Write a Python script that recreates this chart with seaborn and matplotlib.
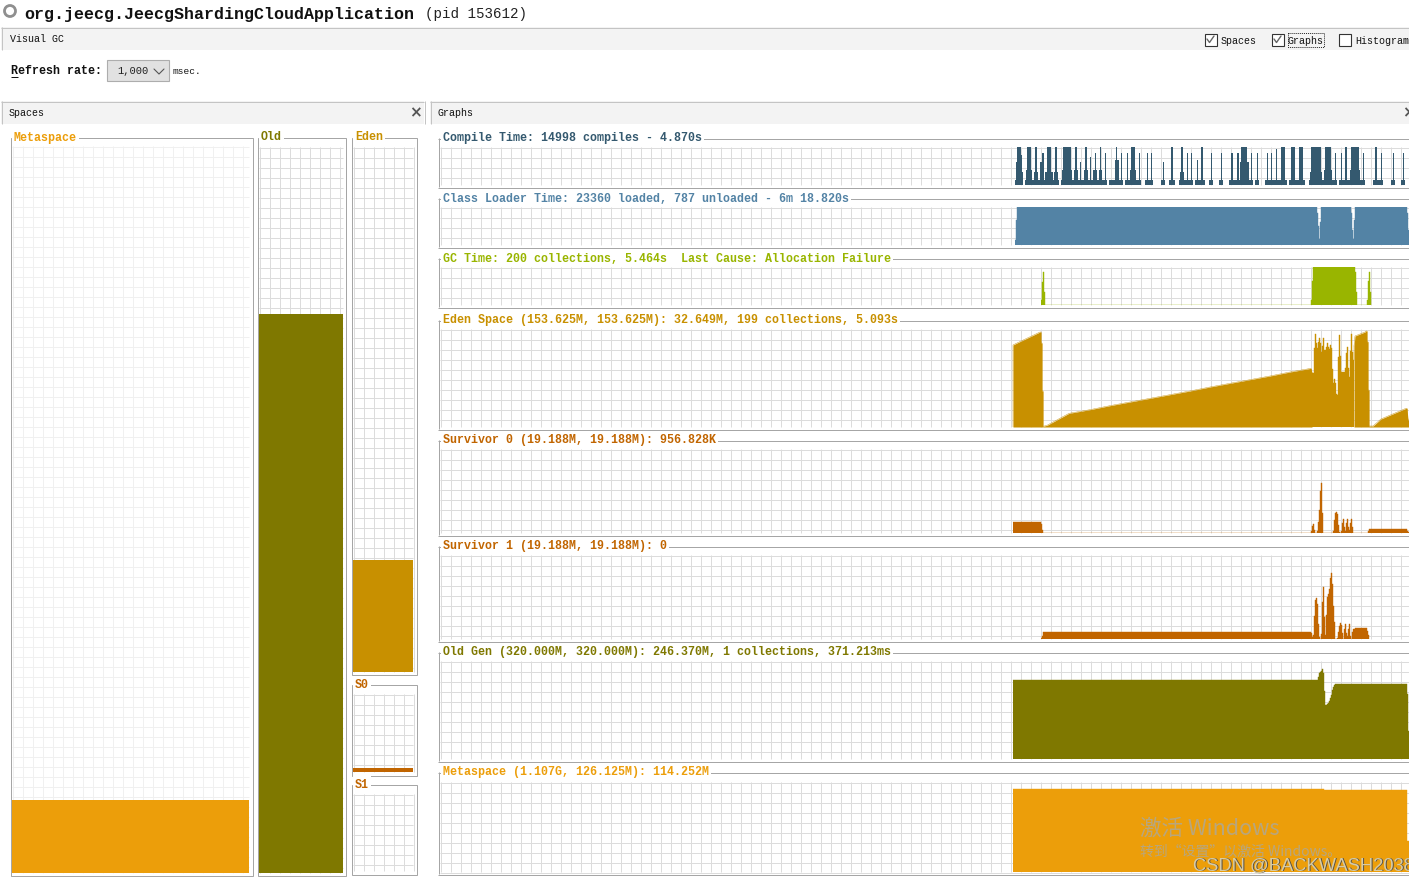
import numpy as np
import pandas as pd
import matplotlib
matplotlib.use("Agg")
import matplotlib.pyplot as plt
from matplotlib.patches import Rectangle, Circle
from matplotlib.collections import LineCollection
import seaborn as sns

W, H = 1409, 883
sns.set_theme(style="white")
plt.rcParams["font.family"] = ["Liberation Mono", "DejaVu Sans"]

# ---------- Spaces panel (capacity and used, MB) ----------
space_names = ["Metaspace", "Old", "Eden", "S0", "S1"]
space_capacity = [1133.6, 320.0, 153.625, 19.188, 19.188]
space_used = [114.252, 246.37, 32.649, 0.934, 0.0]

# ---------- Graph titles ----------
graph_titles = [
    "Compile Time: 14998 compiles - 4.870s",
    "Class Loader Time: 23360 loaded, 787 unloaded - 6m 18.820s",
    "GC Time: 200 collections, 5.464s  Last Cause: Allocation Failure",
    "Eden Space (153.625M, 153.625M): 32.649M, 199 collections, 5.093s",
    "Survivor 0 (19.188M, 19.188M): 956.828K",
    "Survivor 1 (19.188M, 19.188M): 0",
    "Old Gen (320.000M, 320.000M): 246.370M, 1 collections, 371.213ms",
    "Metaspace (1.107G, 126.125M): 114.252M",
]

# ---------- Series: time in samples ----------
compile_start = [45,48,51,63,66,75,78,81,102,105,120,126,135,141,162,165,183,186,189,222,225,240,252,255,270,279,285,297,300,315,327,345,348,363,375,381,390,393,417,435,441,453,483,489,507,513,537,540,543,561,573,585,591,603,627,633,657,663,687,693,711,720,723,753,765,771,795,801,813,828,843,867,873,897,927,930,933,972,975,1005,1017,1023,1035,1050,1053,1089,1119,1125,1143,1173,1179,1203,1209]
compile_end = [69,66,63,66,69,177,96,93,114,111,132,132,159,153,174,171,321,216,213,234,231,243,264,261,273,291,288,306,303,318,369,357,351,366,423,384,408,405,420,459,444,456,495,492,525,519,579,552,549,564,576,615,594,609,639,636,669,666,759,699,717,747,741,756,777,774,861,804,816,831,855,915,885,909,1011,966,963,996,993,1008,1095,1026,1041,1080,1077,1092,1149,1131,1146,1185,1182,1215,1212]
compile_height = [.13,.6,1,.8,.35,.13,.4,1,.35,1,.6,.85,.35,1,.35,1,.13,.4,1,.4,1,.6,.4,1,.75,.4,.85,.4,1,.85,.13,.65,1,.85,.13,.85,.4,1,.85,.13,.85,.85,.13,.6,.13,1,.13,.35,1,.85,.85,.13,.65,1,.13,.85,.13,.85,.13,.85,.85,.6,1,.85,.13,.85,.13,.85,.85,.95,1,.13,1,1,.13,.35,1,.4,1,.85,.13,.85,1,.4,1,.85,.13,1,.85,.13,.85,.13,.85]

class_t = [45,48,51,951,954,957,960,963,1053,1056,1059,1062,1065,1221,1224,1227]
class_h = [.13,.65,1,.85,.5,.15,.6,1,.85,.4,.15,.65,1,.85,.4,.4]

gc_t = [123,126,129,132,135,933,936,939,1065,1068,1071,1101,1104,1107,1110,1113]
gc_h = [.13,.6,.87,.35,0,.13,.62,1,.87,.35,0,.13,.62,.87,.35,0]

eden_first_t = [39,39,51,120,123,123,126,126,129,129]
eden_first_h = [0,246,252,285,285,252,252,108,108,2]
eden_ramp_t = [129,141,207,270,330,390,450,510,570,630,690,750,810,870,933,936]
eden_ramp_h = [2,5,41,52,64,75,86,97,108,120,131,142,153,165,176,163]
eden_burst_t = [936,942,945,948,951,954,957,960,963,966,969,972,978,981,984,987,990,993,996,999,1002,1005,1008,1011,1014,1017,1020,1023,1032,1035,1038,1041,1044,1047,1050,1053,1056,1059,1062]
eden_burst_h = [163,236,279,251,236,256,266,251,226,244,266,231,241,253,239,233,246,236,173,131,143,131,99,96,211,276,213,166,166,176,221,239,176,151,229,279,226,201,243]
eden_last_t = [1062,1065,1095,1098,1101,1101,1104,1104,1107,1107,1119,1143,1218,1221,1224,1227]
eden_last_h = [243,273,285,288,288,256,256,111,111,3,3,24,56,56,21,21]

s0_t = [39,123,126,129,933,936,939,942,945,951,954,957,960,963,966,969,999,1002,1005,1008,1011,1014,1017,1020,1023,1026,1029,1032,1035,1038,1041,1044,1047,1050,1053,1056,1059,1104,1107,1221,1224,1227]
s0_h = [32,26,10,0,5,20,28,10,0,5,32,68,125,150,60,0,5,38,60,64,58,25,4,0,6,30,42,18,5,30,42,18,8,30,42,18,0,5,11,7,3,3]

s1_t = [123,126,129,933,936,939,942,945,948,951,954,957,960,963,966,969,972,975,978,981,984,987,990,993,996,999,1002,1005,1011,1014,1017,1020,1023,1026,1029,1032,1035,1038,1041,1044,1047,1050,1053,1056,1059,1065,1101,1104,1107]
s1_h = [3,9,21,18,5,13,70,117,122,106,44,5,0,14,110,155,65,12,72,125,135,150,182,198,165,100,50,0,3,22,40,47,43,18,0,30,45,18,8,30,45,8,0,20,30,33,25,12,0]

old_t = [39,954,957,960,963,966,969,972,975,981,984,987,990,993,996,999,1002,1005,1017,1221,1224,1227]
old_h = [237,247,257,262,264,270,259,205,162,165,169,174,182,192,207,217,221,224,226,195,84,84]

meta_t = [39,972,1221,1227]
meta_h = [249,246,94,94]

# ---------- Colours ----------
C_COMPILE, C_CLASS, C_GC = "#34596f", "#5383a5", "#99b500"
C_EDEN, C_SURV, C_OLD, C_META = "#c89000", "#c16500", "#7f7800", "#ec9e0a"
GRID, BORDER, STRIP = "#dcdcdc", "#a6a6a6", "#f3f3f3"

fig = plt.figure(figsize=(W / 100, H / 100), dpi=100, facecolor="white")
bg = fig.add_axes([0, 0, 1, 1], zorder=0)
bg.set_xlim(0, W); bg.set_ylim(H, 0); bg.axis("off")
top = fig.add_axes([0, 0, 1, 1], zorder=10)
top.set_xlim(0, W); top.set_ylim(H, 0); top.axis("off"); top.patch.set_alpha(0)


def px_axes(x0, y0, x1, y1):
    ax = fig.add_axes([x0 / W, 1 - y1 / H, (x1 - x0) / W, (y1 - y0) / H], zorder=5)
    ax.patch.set_alpha(0)
    ax.axis("off")
    return ax


def hline(a, x0, x1, y, c=BORDER, lw=1.0):
    a.plot([x0, x1], [y + .5, y + .5], color=c, lw=lw * .72, solid_capstyle="butt", snap=True)


def vline(a, x, y0, y1, c=BORDER, lw=1.0):
    a.plot([x + .5, x + .5], [y0, y1], color=c, lw=lw * .72, solid_capstyle="butt", snap=True)


def grid(x0, y0, x1, y1, c=GRID):
    segs = [[(x + .5, y0), (x + .5, y1)] for x in range(x0, x1 + 1, 10)]
    segs += [[(x0, y + .5), (x1, y + .5)] for y in range(y0, y1 + 1, 10)]
    bg.add_collection(LineCollection(segs, colors=c, linewidths=.72))


def ui(x, y, s, size=7.2, weight="normal", color="#111111", **kw):
    return top.text(x, y, s, fontsize=size, fontweight=weight, color=color, va="center", ha="left", **kw)


# ---------- Window chrome ----------
top.add_patch(Circle((10, 11), 5.5, fill=False, ec="#8f8f8f", lw=2))
top.text(24, 14, "org.jeecg.JeecgShardingCloudApplication", fontsize=12, fontweight="bold",
         color="#111111", va="center")
top.text(425, 14, "(pid 153612)", fontsize=10.2, color="#222222", va="center")

for (x0, x1, y0, y1) in [(1, W, 27, 50), (1, 424, 101, 124), (430, W, 101, 124)]:
    bg.add_patch(Rectangle((x0, y0), x1 - x0, y1 - y0, fc=STRIP, ec="none"))
    hline(bg, x0, x1, y0, c="#c4c4c4")
    vline(bg, x0, y0, y1, c="#c4c4c4")
vline(bg, 424, 101, 124, c="#c4c4c4")
ui(10, 39, "Visual GC")
ui(9, 113.5, "Spaces")
ui(438, 113.5, "Graphs")
for x in (415,):
    top.text(x, 113, "\u00d7", fontsize=11, fontweight="bold", color="#555555", ha="center", va="center",
             family="DejaVu Sans")
top.text(1408, 113, "\u00d7", fontsize=11, fontweight="bold", color="#555555", ha="center", va="center",
         family="DejaVu Sans")

ui(11, 71, "Refresh rate:", size=8.4, weight="bold")
hline(top, 11, 18, 76, c="#111111")
bg.add_patch(Rectangle((107, 60), 62, 21, fc="#e1e1e1", ec="#adadad", lw=.8))
ui(117, 71, "1,000", size=7.6, color="#222222")
top.plot([154, 159, 164], [69, 74, 69], color="#555555", lw=.8)
ui(173, 71.5, "msec.", size=6.8)

for x, label, checked in [(1204, "Spaces", True), (1271, "Graphs", True), (1338, "Histogram", False)]:
    bg.add_patch(Rectangle((x + .5, 33.5), 12, 12, fc="white", ec="#333333", lw=.8))
    if checked:
        top.plot([x + 3, x + 5.5, x + 10], [39, 42.5, 36], color="#666666", lw=1)
    ui(x + 17, 40.5, label, size=7.2)
top.add_patch(Rectangle((1288, 32.5), 36, 14, fill=False, ec="#222222", lw=.7, ls=(0, (1, 1))))

# ---------- Spaces panel ----------
space_boxes = [  # border x0, y0, x1, y1, grid x0, y0, x1, y1, colour, title x
    (10, 137, 252, 875, 12, 146, 249, 873, C_META, 14),
    (257, 137, 345, 875, 259, 147, 343, 873, C_OLD, 261),
    (351, 137, 416, 674, 353, 147, 413, 672, C_EDEN, 355),
    (351, 684, 416, 775, 353, 694, 413, 772, C_SURV, 355),
    (351, 784, 416, 874, 353, 794, 413, 871, C_SURV, 355),
]
for name, cap, used, box in zip(space_names, space_capacity, space_used, space_boxes):
    bx0, by0, bx1, by1, gx0, gy0, gx1, gy1, col, tx = box
    bg.add_patch(Rectangle((bx0 + .5, by0 + .5), bx1 - bx0, by1 - by0, fill=False, ec=BORDER, lw=.72))
    grid(gx0, gy0, gx1, gy1, c="#f0f0f0" if name == "Metaspace" else GRID)
    bg.text(tx, by0 + .5, name, fontsize=8.4, fontweight="bold", color=col, va="center", ha="left",
            bbox=dict(fc="white", ec="none", pad=1.5), zorder=5)
    ax = px_axes(gx0, gy0, gx1, gy1)
    sns.barplot(x=[name], y=[used], width=1, color=col, saturation=1, ax=ax, linewidth=0)
    ax.set_xlim(-.5, .5)
    ax.set_ylim(0, cap)
    ax.axis("off")

# ---------- Graphs panel ----------
graph_boxes = [  # title line y, grid top, data bottom, border bottom, colour
    (138, 147, 185, 187, C_COMPILE),
    (198, 207, 245, 247, C_CLASS),
    (258, 267, 305, 307, C_GC),
    (320, 329, 427, 429, C_EDEN),
    (440, 449, 533, 535, C_SURV),
    (546, 555, 639, 641, C_SURV),
    (652, 661, 759, 761, C_OLD),
    (772, 782, 872, 874, C_META),
]
XL = (-1683, 1227)
graph_axes = []
for title, (ty, gt, db, bb, col) in zip(graph_titles, graph_boxes):
    hline(bg, 438, W, ty)
    vline(bg, 438, ty, bb)
    hline(bg, 438, W, bb)
    grid(440, gt, W, db)
    bg.text(443, ty + .5, title, fontsize=8.4, fontweight="bold", color=col, va="center", ha="left",
            bbox=dict(fc="white", ec="none", pad=1.5), zorder=5)
    ax = px_axes(439, gt, W, db)
    ax.set_xlim(*XL)
    ax.set_ylim(0, 1 if col in (C_COMPILE, C_CLASS, C_GC) else 3 * (db - gt))
    graph_axes.append(ax)


def steps(ax, t, h, col):
    ax.fill_between(t, h, step="post", color=col, lw=0)
    sns.lineplot(x=t, y=h, drawstyle="steps-post", estimator=None, errorbar=None, sort=False,
                 color=col, lw=.3, ax=ax)
    ax.axis("off")


def poly(ax, t, h, col):
    ax.fill_between(t, h, color=col, lw=0)
    sns.lineplot(x=t, y=h, estimator=None, errorbar=None, sort=False, color=col, lw=.3, ax=ax)
    ax.axis("off")


axc = graph_axes[0]
axc.bar(compile_start, compile_height,
        width=np.array(compile_end) - np.array(compile_start), align="edge", color=C_COMPILE, lw=0)
steps(graph_axes[1], class_t, class_h, C_CLASS)
steps(graph_axes[2], gc_t, gc_h, C_GC)
poly(graph_axes[3], eden_first_t, eden_first_h, C_EDEN)
poly(graph_axes[3], eden_ramp_t, eden_ramp_h, C_EDEN)
steps(graph_axes[3], eden_burst_t, eden_burst_h, C_EDEN)
poly(graph_axes[3], eden_last_t, eden_last_h, C_EDEN)
steps(graph_axes[4], s0_t, s0_h, C_SURV)
steps(graph_axes[5], s1_t, s1_h, C_SURV)
steps(graph_axes[6], old_t, old_h, C_OLD)
steps(graph_axes[7], meta_t, meta_h, C_META)
for ax, (ty, gt, db, bb, col) in zip(graph_axes, graph_boxes):
    ax.set_xlim(*XL)
    ax.set_ylim(0, 1 if col in (C_COMPILE, C_CLASS, C_GC) else 3 * (db - gt))

# ---------- Overlaid watermarks ----------
top.text(1140, 829, "激活 Windows", fontsize=15.5, color="#b8a67e", va="center",
         family=["Noto Sans CJK SC", "DejaVu Sans"])
top.text(1140, 852, "转到“设置”以激活 Windows。", fontsize=10, color="#b8a67e", va="center",
         family=["Noto Sans CJK SC", "DejaVu Sans"])
top.text(1193.7, 866.7, "CSDN @BACKWASH2038", fontsize=13.2, color="#555045", va="center",
         family="Liberation Sans")
top.text(1193, 866, "CSDN @BACKWASH2038", fontsize=13.2, color="#d8cba4", va="center",
         family="Liberation Sans")

fig.savefig("out.png", dpi=100)
